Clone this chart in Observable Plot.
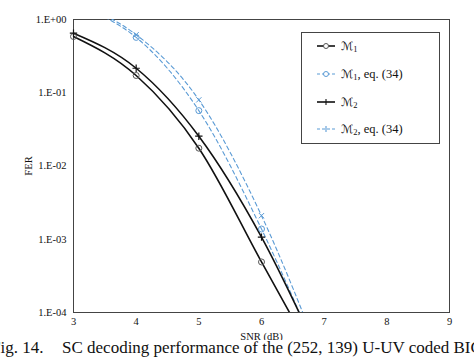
<!DOCTYPE html>
<html>
<head>
<meta charset="utf-8">
<script src="https://cdn.jsdelivr.net/npm/d3@7"></script>
<script src="https://cdn.jsdelivr.net/npm/@observablehq/plot@0.6"></script>
<style>
  html, body { margin: 0; padding: 0; background: #fff; width: 474px; height: 361px; overflow: hidden; }
  #chart { position: relative; width: 474px; height: 340px; }
  #caption { position: relative; width: 474px; height: 21px; white-space: nowrap; font-family: "Liberation Serif", serif; font-size: 17px; line-height: 21px; color: #111; }
  #caption span { position: absolute; top: -3px; }
</style>
</head>
<body>
<div id="chart"></div>
<div id="caption"><span style="left:-9px">Fig. 14.</span><span style="left:62px">SC decoding performance of the (252, 139) U-UV coded BICM</span></div>
<script>
// SNR (dB) values
const snr = [3, 4, 5, 6, 7];
const m1 = [0.586, 0.172, 0.0175, 0.00049, 1.4e-5];
const m2 = [0.65, 0.216, 0.0255, 0.00107, 1.85e-5];
const snrEq = [3.5, 4, 5, 6, 7];
const m1eq = [1.08, 0.57, 0.057, 0.00138, 1.6e-5];
const m2eq = [1.15, 0.62, 0.08, 0.0021, 1.8e-5];
const xTicks = [3, 4, 5, 6, 7, 8, 9];
const yTicks = [1, 0.1, 0.01, 0.001, 0.0001];

const blue = "#5b9bd5";
const rows = [];
snr.forEach((x, i) => { rows.push({s: "M1", x, y: m1[i]}); rows.push({s: "M2", x, y: m2[i]}); });
snrEq.forEach((x, i) => { rows.push({s: "M1eq", x, y: m1eq[i]}); rows.push({s: "M2eq", x, y: m2eq[i]}); });
const visible = d => d.y <= 1 && d.y >= 1e-4 && Number.isInteger(d.x);
const ser = s => rows.filter(d => d.s === s);

const fmt = v => {
  const e = Math.round(Math.log10(v));
  return "1.E" + (e >= 0 ? "+" : "-") + String(Math.abs(e)).padStart(2, "0");
};

const plot = Plot.plot({
  width: 474,
  height: 340,
  marginLeft: 73,
  marginRight: 25,
  marginTop: 19,
  marginBottom: 28,
  style: {fontFamily: "Liberation Serif, serif", fontSize: "10.5px", color: "#111", background: "#fff"},
  x: {domain: [3, 9], ticks: xTicks, tickFormat: d => String(d), tickSize: 0, tickPadding: 5, label: "SNR (dB)", labelAnchor: "center", labelArrow: "none", labelOffset: 27},
  y: {type: "log", domain: [1e-4, 1], ticks: yTicks, tickFormat: fmt, tickSize: 0, tickPadding: 7, label: "FER", labelAnchor: "center", labelArrow: "none", labelOffset: 49},
  marks: [
    Plot.frame({stroke: "#444", strokeWidth: 1}),
    Plot.line(ser("M1eq"), {x: "x", y: "y", stroke: blue, strokeWidth: 1.1, strokeDasharray: "4,3", curve: "monotone-x", clip: true}),
    Plot.line(ser("M2eq"), {x: "x", y: "y", stroke: blue, strokeWidth: 1.1, strokeDasharray: "4,3", curve: "monotone-x", clip: true}),
    Plot.line(ser("M1"), {x: "x", y: "y", stroke: "#111", strokeWidth: 1.6, curve: "monotone-x", clip: true}),
    Plot.line(ser("M2"), {x: "x", y: "y", stroke: "#111", strokeWidth: 1.6, curve: "monotone-x", clip: true}),
    Plot.dot(ser("M1").filter(visible), {x: "x", y: "y", r: 3, stroke: "#555", fill: "none", strokeWidth: 1}),
    Plot.dot(ser("M1eq").filter(visible), {x: "x", y: "y", r: 3, stroke: blue, fill: "none", strokeWidth: 1}),
    Plot.dot(ser("M2").filter(visible), {x: "x", y: "y", r: 2.5, symbol: "plus", stroke: "#111", strokeWidth: 1.2}),
    Plot.dot(ser("M2eq").filter(visible), {x: "x", y: "y", r: 2.5, symbol: "times", stroke: blue, strokeWidth: 1})
  ]
});
document.getElementById("chart").appendChild(plot);

// Legend drawn inside the plot area
const svg = d3.select(plot);
const lg = svg.append("g").attr("font-family", "Liberation Serif, serif").attr("font-size", "12.5px")
  .attr("fill", "#111").attr("text-anchor", "start");
lg.append("rect").attr("x", 301.5).attr("y", 32.5).attr("width", 138).attr("height", 111)
  .attr("fill", "#fff").attr("stroke", "#444").attr("stroke-width", 1);
const items = [
  {sub: "1", extra: "", stroke: "#111", dash: null, sym: "circle", mstroke: "#555"},
  {sub: "1", extra: ", eq. (34)", stroke: blue, dash: "3,2", sym: "circle", mstroke: blue},
  {sub: "2", extra: "", stroke: "#111", dash: null, sym: "plus", mstroke: "#111"},
  {sub: "2", extra: ", eq. (34)", stroke: blue, dash: "3,2", sym: "plus", mstroke: blue}
];
const ys = [46, 74, 102, 129];
items.forEach((it, i) => {
  const y = ys[i];
  const g = lg.append("g");
  const ln = g.append("line").attr("x1", 317).attr("x2", 335).attr("y1", y).attr("y2", y)
    .attr("stroke", it.stroke).attr("stroke-width", it.dash ? 1.1 : 1.6);
  if (it.dash) ln.attr("stroke-dasharray", it.dash);
  if (it.sym === "circle") {
    g.append("circle").attr("cx", 326).attr("cy", y).attr("r", 2.5).attr("fill", "#fff").attr("stroke", it.mstroke);
  } else {
    g.append("line").attr("x1", 326).attr("x2", 326).attr("y1", y - 3).attr("y2", y + 3).attr("stroke", it.mstroke).attr("stroke-width", 1.1);
  }
  const t = g.append("text").attr("x", 341).attr("y", y + 4);
  t.append("tspan").attr("font-family", "DejaVu Sans, sans-serif").attr("font-size", "11.5px").text("ℳ");
  t.append("tspan").attr("font-size", "8.5px").attr("dy", 2).text(it.sub);
  if (it.extra) t.append("tspan").attr("dy", -2).text(it.extra);
});
</script>
</body>
</html>
